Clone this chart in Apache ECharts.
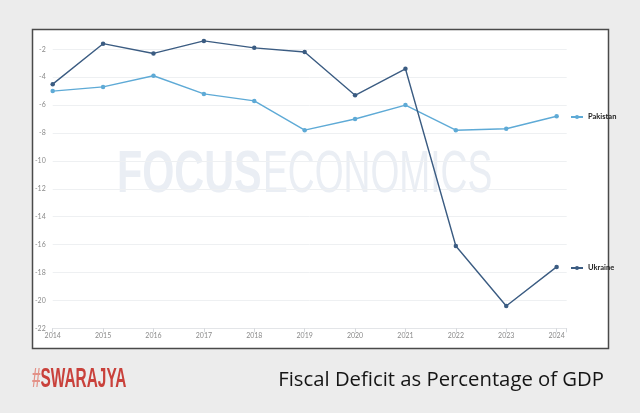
<!DOCTYPE html>
<html>
<head>
<meta charset="utf-8">
<script src="https://cdn.jsdelivr.net/npm/echarts@6/dist/echarts.min.js"></script>
<style>
  html, body { margin: 0; padding: 0; background: #ececec; }
  #main { width: 640px; height: 413px; }
</style>
</head>
<body>
<div id="main"></div>
<script>
// data (fiscal balance, % of GDP)
var years = [2014, 2015, 2016, 2017, 2018, 2019, 2020, 2021, 2022, 2023, 2024];
var pakistan = [-5.0, -4.7, -3.9, -5.2, -5.7, -7.8, -7.0, -6.0, -7.8, -7.7, -6.8];
var ukraine = [-4.5, -1.6, -2.3, -1.4, -1.9, -2.2, -5.3, -3.4, -16.1, -20.4, -17.6];
var yTicks = [-22, -20, -18, -16, -14, -12, -10, -8, -6, -4, -2];

function pairs(vals) {
  return years.map(function (y, i) { return [y, vals[i]]; });
}

// grid line colours, last one (the -1 edge) hidden
var gridColors = yTicks.map(function () { return '#eef0f2'; });
gridColors.push('rgba(0,0,0,0)');

var chart = echarts.init(document.getElementById('main'), null, { renderer: 'canvas' });

var option = {
  backgroundColor: '#ececec',
  animation: false,
  title: {
    text: 'Fiscal Deficit as Percentage of GDP',
    right: 31,
    top: 365,
    textStyle: { fontFamily: 'Open Sans', fontWeight: 'normal', fontSize: 20.3, color: '#151515' }
  },
  graphic: [
    {
      type: 'rect', z: -10,
      shape: { x: 32.5, y: 29.5, width: 576, height: 319 },
      style: { fill: '#ffffff', stroke: '#4a4a4a', lineWidth: 1.5 }
    },
    {
      type: 'text', z: -5, x: 117, y: 146, scaleX: 0.70,
      style: { text: 'FOCUS', font: 'bold 59px "Liberation Sans"', fill: '#eaeef4' }
    },
    {
      type: 'text', z: -5, x: 263, y: 146, scaleX: 0.63,
      style: { text: 'ECONOMICS', font: 'normal 59px "Liberation Sans"', fill: '#eaeef4' }
    },
    {
      type: 'text', x: 32, y: 366, scaleX: 0.57,
      style: {
        text: '{h|#}{s|SWARAJYA}',
        rich: {
          h: { font: 'bold 27px "Liberation Sans"', fill: '#e39288' },
          s: { font: 'bold 27px "Liberation Sans"', fill: '#c9413b' }
        }
      }
    }
  ],
  legend: [
    {
      data: ['Pakistan'], left: 565, top: 108, itemWidth: 12, itemHeight: 5, itemGap: 4,
      textStyle: { fontSize: 7.5, fontWeight: 'bold', color: '#222', fontFamily: 'Lato' }
    },
    {
      data: ['Ukraine'], left: 565, top: 259, itemWidth: 12, itemHeight: 5, itemGap: 4,
      textStyle: { fontSize: 7.5, fontWeight: 'bold', color: '#222', fontFamily: 'Lato' }
    }
  ],
  grid: { left: 52.7, right: 73.3, top: 35.3, bottom: 84.7, containLabel: false },
  xAxis: {
    type: 'value',
    min: 2014,
    max: 2024.2,
    interval: 1,
    axisLine: { show: true, onZero: false, lineStyle: { color: '#e3e5e8' } },
    axisTick: { show: true, length: 4, lineStyle: { color: '#d5d8dc' } },
    splitLine: { show: false },
    axisLabel: {
      fontSize: 7, color: '#8a8a8a', margin: 4, fontFamily: 'Lato',
      formatter: function (v) { return Number.isInteger(v) ? String(v) : ''; }
    }
  },
  yAxis: {
    type: 'value',
    min: -22,
    max: -1,
    interval: 2,
    axisLine: { show: false },
    axisTick: { show: false },
    splitLine: { lineStyle: { color: gridColors, width: 1 } },
    axisLabel: {
      fontSize: 7, color: '#8a8a8a', margin: 7, fontFamily: 'Lato',
      formatter: function (v) { return v % 2 === 0 ? String(v) : ''; }
    }
  },
  series: [
    {
      name: 'Pakistan',
      type: 'line',
      data: pairs(pakistan),
      color: '#5eaad6',
      symbol: 'circle',
      symbolSize: 4.5,
      lineStyle: { width: 1.4 },
      z: 3
    },
    {
      name: 'Ukraine',
      type: 'line',
      data: pairs(ukraine),
      color: '#3b5c82',
      symbol: 'circle',
      symbolSize: 4.5,
      lineStyle: { width: 1.4 },
      z: 4
    }
  ]
};

chart.setOption(option);
</script>
</body>
</html>
